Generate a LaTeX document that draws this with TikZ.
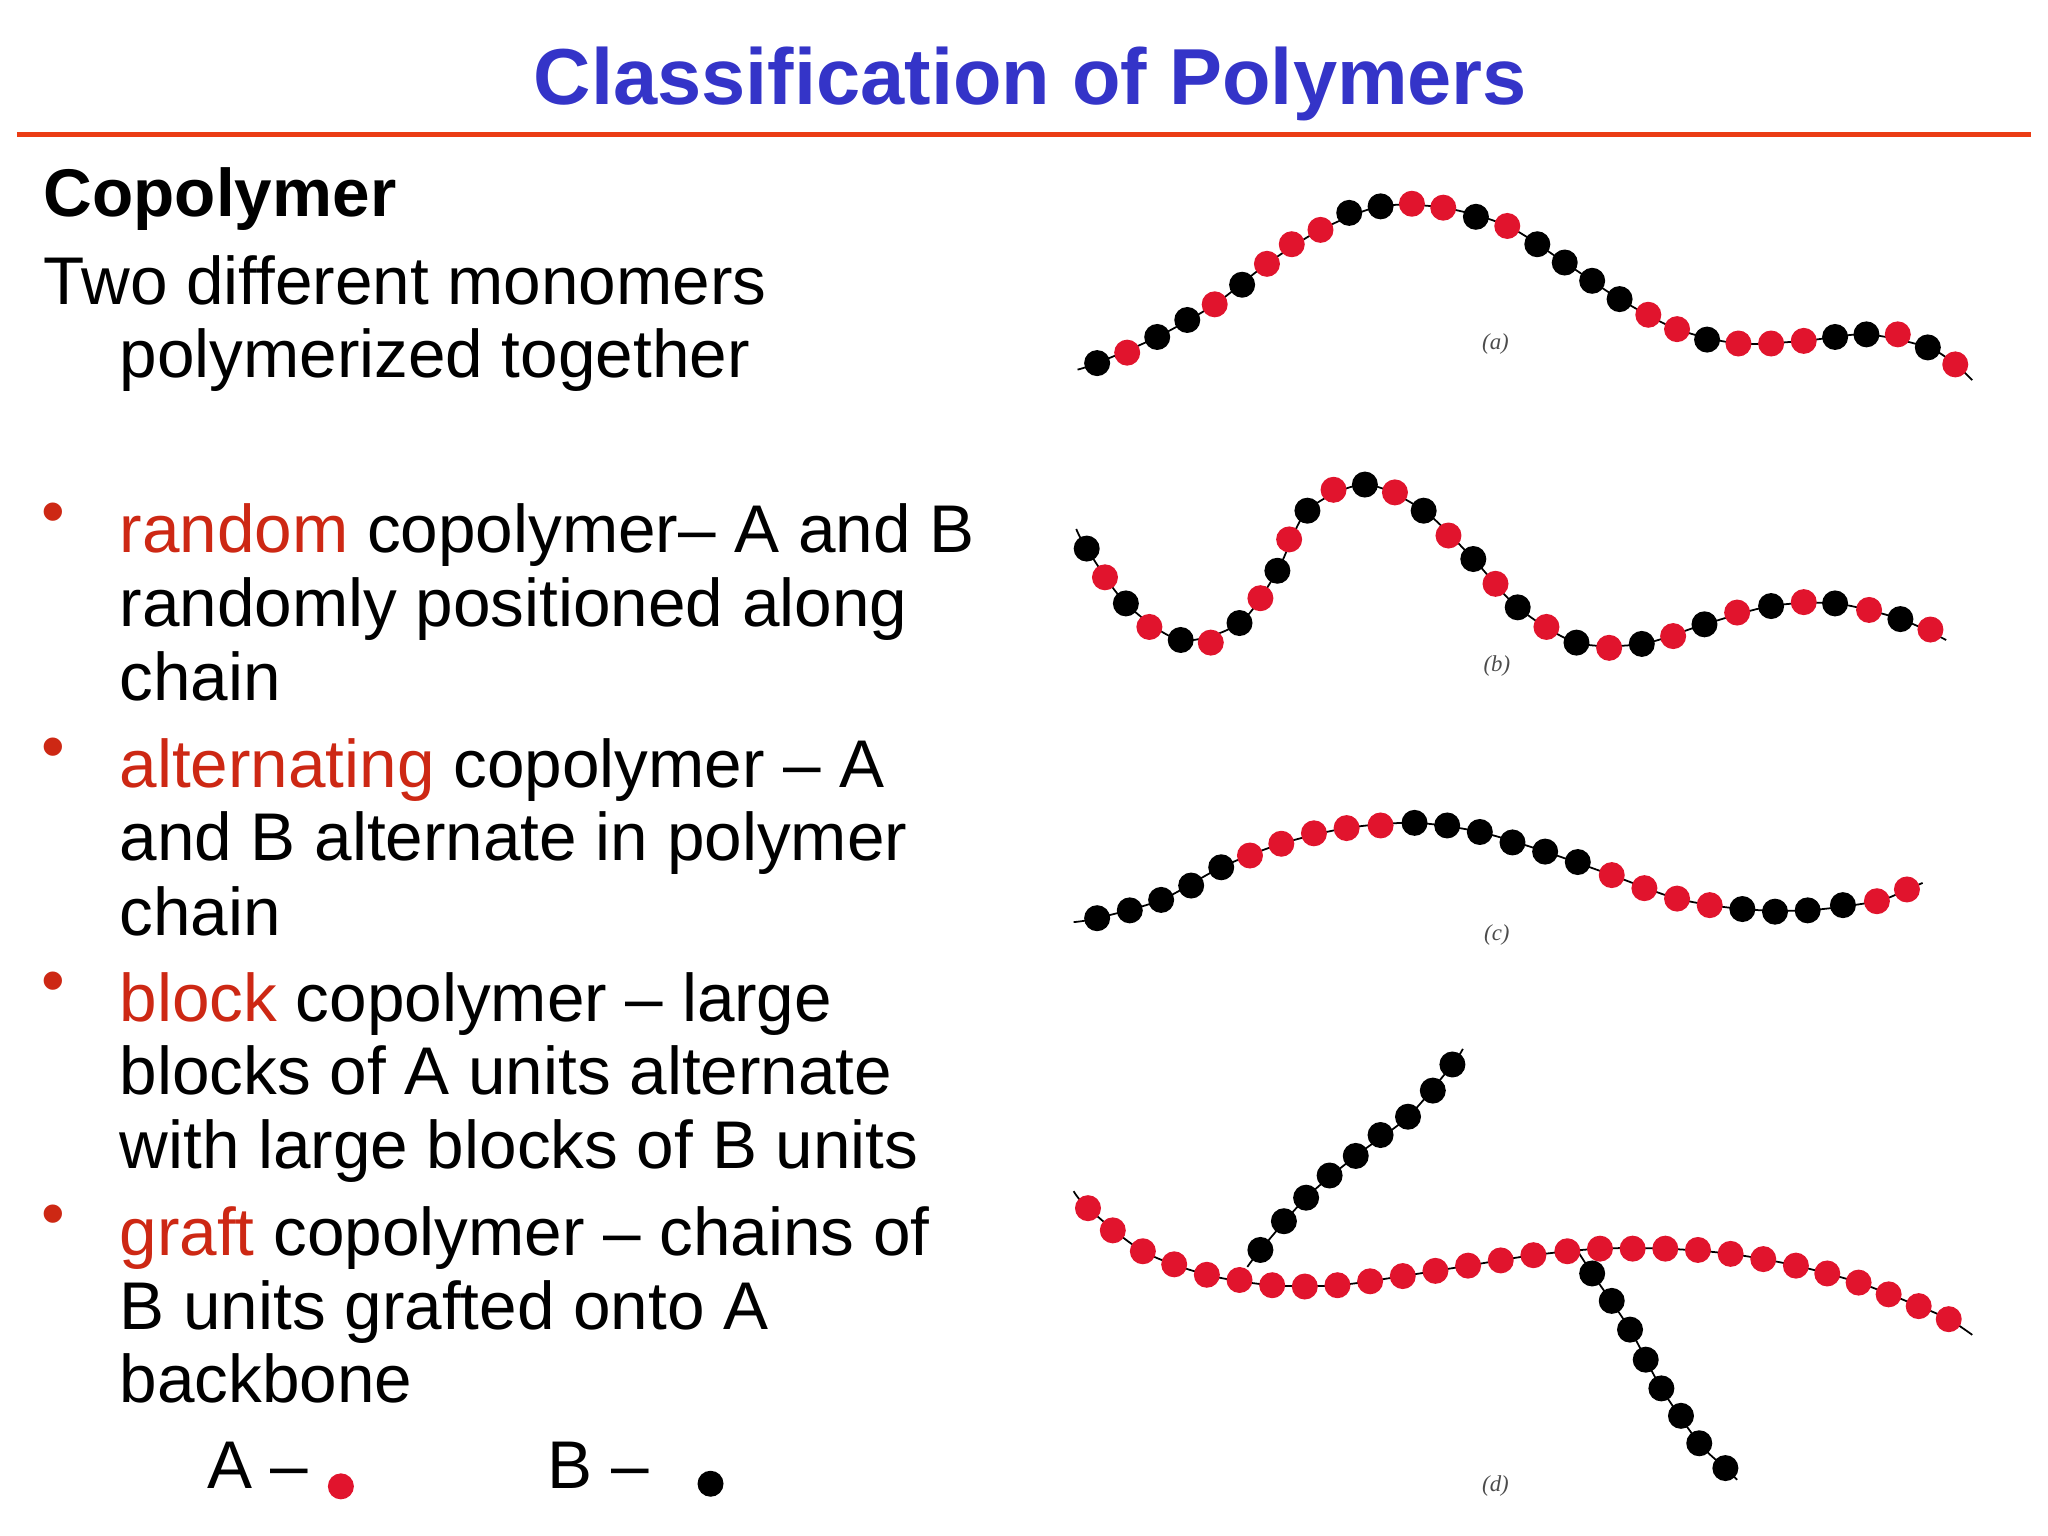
\documentclass[tikz,border=0pt]{standalone}
\usepackage{fontspec}
\setmainfont{Liberation Sans}
\newfontfamily\lblfont{Liberation Serif}
\definecolor{ttl}{RGB}{52,52,200}
\definecolor{rul}{RGB}{235,60,20}
\definecolor{kw}{RGB}{205,40,20}
\definecolor{beadR}{RGB}{225,20,45}
\begin{document}
\begin{tikzpicture}[x=0.01306cm,y=-0.01306cm,
  txt/.style={anchor=base west,inner sep=0,font=\fontsize{19.2pt}{23pt}\selectfont},
  lbl/.style={font=\fontsize{6.5pt}{7pt}\selectfont\lblfont\itshape,text=black!70},
  R/.style={circle,fill=beadR,inner sep=0,minimum size=0.26cm},
  B/.style={circle,fill=black,inner sep=0,minimum size=0.26cm},
  chain/.style={black,line width=0.5pt}]
\useasboundingbox (0,0) rectangle (1568,1176);
\node[inner sep=0,anchor=base,font=\fontsize{22.6pt}{26pt}\selectfont\bfseries,text=ttl] (title) at (789,80) {Classification of Polymers};
\coordinate (r1) at (13,103); \coordinate (r2) at (1555,103);
\draw[rul,line width=1.4pt] (r1) -- (r2);
\node[txt,font=\fontsize{19.2pt}{23pt}\selectfont\bfseries] (t0) at (33,166) {Copolymer};
\node[txt] (t1) at (33,233) {Two different monomers};
\node[txt] (t2) at (91,289) {polymerized together};
\foreach \y/\kwd/\rest [count=\i] in {423/random/{ copolymer– A and B},603/alternating/{ copolymer – A},782/block/{ copolymer – large},961/graft/{ copolymer – chains of}}{
  \node[txt,text=kw] (bl\i) at (31,\y-14) {•};
  \node[txt] (bk\i) at (91,\y) {\textcolor{kw}{\kwd}\rest};
}
\node[txt] (l12) at (91,480) {randomly positioned along};
\node[txt] (l13) at (91,536) {chain};
\node[txt] (l22) at (91,659) {and B alternate in polymer};
\node[txt] (l23) at (91,716) {chain};
\node[txt] (l32) at (91,838) {blocks of A units alternate};
\node[txt] (l33) at (91,895) {with large blocks of B units};
\node[txt] (l42) at (91,1018) {B units grafted onto A};
\node[txt] (l43) at (91,1074) {backbone};
\node[txt] (la) at (158,1140) {A –};
\node[R] (da) at (261,1138) {};
\node[txt] (lb) at (419,1140) {B –};
\node[B] (db) at (544,1136) {};
% chain a
\draw[chain] plot[smooth] coordinates {(825,283)(840,278)(886,258)(930,233)(970,202)(1011,176)(1057,158)(1105,159)(1154,173)(1198,201)(1240,229)(1284,252)(1331,263)(1381,261)(1429,256)(1476,266)(1497,279)(1510,291)};
\foreach \x/\y/\c in {840/278/B,863/270/R,886/258/B,909/245/B,930/233/R,951/218/B,970/202/R,989/187/R,1011/176/R,1033/163/B,1057/158/B,1081/156/R,1105/159/R,1130/166/B,1154/173/R,1177/187/B,1198/201/B,1219/215/B,1240/229/B,1262/241/R,1284/252/R,1307/260/B,1331/263/R,1356/263/R,1381/261/R,1405/258/B,1429/256/B,1453/256/R,1476/266/B,1497/279/R}
  \node[\c] at (\x,\y) {};
\node[lbl] (la1) at (1145,263) {(a)};
% chain b
\draw[chain] plot[smooth] coordinates {(824,405)(832,420)(862,462)(904,490)(949,477)(978,437)(1001,391)(1045,371)(1090,391)(1128,428)(1162,465)(1207,492)(1257,493)(1305,478)(1356,464)(1405,462)(1455,474)(1490,490)};
\foreach \x/\y/\c in {832/420/B,846/442/R,862/462/B,880/480/R,904/490/B,927/492/R,949/477/B,965/458/R,978/437/B,987/413/R,1001/391/B,1021/375/R,1045/371/B,1068/377/R,1090/391/B,1109/410/R,1128/428/B,1145/447/R,1162/465/B,1184/480/R,1207/492/B,1232/496/R,1257/493/B,1281/487/R,1305/478/B,1330/469/R,1356/464/B,1381/461/R,1405/462/B,1431/467/R,1455/474/B,1478/482/R}
  \node[\c] at (\x,\y) {};
\node[lbl] (lb1) at (1146,510) {(b)};
% chain c
\draw[chain] plot[smooth] coordinates {(822,706)(840,703)(889,689)(935,664)(981,646)(1031,634)(1083,630)(1133,637)(1183,652)(1234,670)(1284,688)(1334,696)(1384,697)(1437,690)(1460,681)(1472,676)};
\foreach \x/\y/\c in {840/703/B,865/697/B,889/689/B,912/678/B,935/664/B,957/655/R,981/646/R,1006/638/R,1031/634/R,1057/632/R,1083/630/B,1108/632/B,1133/637/B,1158/645/B,1183/652/B,1208/660/B,1234/670/R,1259/680/R,1284/688/R,1309/693/R,1334/696/B,1359/698/B,1384/697/B,1411/693/B,1437/690/R,1460/681/R}
  \node[\c] at (\x,\y) {};
\node[lbl] (lc1) at (1146,716) {(c)};
% chain d
\draw[chain] plot[smooth] coordinates {(822,912)(833,925)(875,958)(924,976)(974,984)(1024,984)(1074,977)(1124,969)(1174,961)(1225,956)(1275,956)(1325,960)(1375,969)(1423,982)(1469,1000)(1492,1010)(1510,1022)};
\draw[chain] plot[smooth] coordinates {(955,970)(965,957)(1000,917)(1038,885)(1078,855)(1112,815)(1120,803)};
\draw[chain] plot[smooth] coordinates {(1208,958)(1219,975)(1248,1018)(1272,1063)(1301,1105)(1321,1124)(1330,1133)};
\foreach \x/\y in {833/925,852/942,875/958,899/968,924/976,949/980,974/984,999/985,1024/984,1049/981,1074/977,1099/973,1124/969,1149/965,1174/961,1200/958,1225/956,1250/956,1275/956,1300/957,1325/960,1350/964,1375/969,1399/975,1423/982,1446/991,1469/1000,1492/1010}
  \node[R] at (\x,\y) {};
\foreach \x/\y in {965/957,983/935,1000/917,1018/900,1038/885,1057/869,1078/855,1097/835,1112/815,1219/975,1234/996,1248/1018,1260/1041,1272/1063,1287/1084,1301/1105,1321/1124}
  \node[B] at (\x,\y) {};
\node[lbl] (ld1) at (1145,1138) {(d)};
\end{tikzpicture}
\end{document}
